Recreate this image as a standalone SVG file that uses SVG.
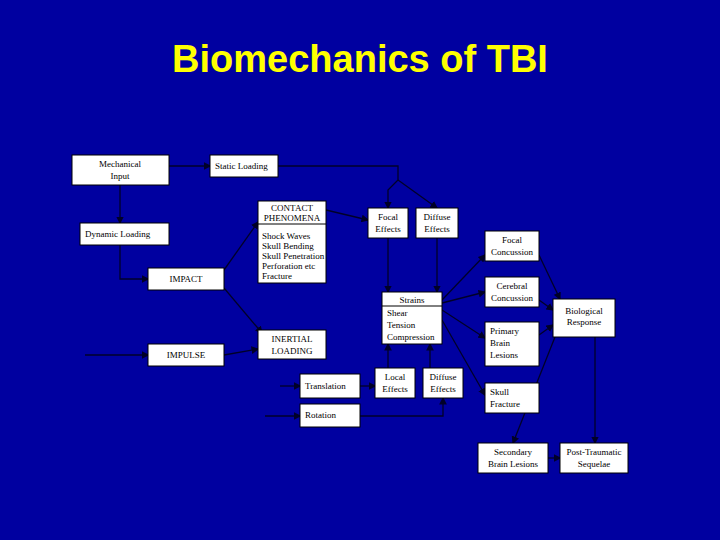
<svg xmlns="http://www.w3.org/2000/svg" width="720" height="540" viewBox="0 0 720 540">
<style>
.b{fill:#fff;stroke:#000;stroke-width:1}
.t{font-family:"Liberation Serif",serif;font-size:9px;fill:#000}
.c{text-anchor:middle}
#conn line,#conn polyline{stroke:#000028;stroke-width:1.3;fill:none;marker-end:url(#a)}
</style>
<defs><marker id="a" markerWidth="6" markerHeight="6" refX="5" refY="3" orient="auto"><path d="M0,0L6,3L0,6z" fill="#000028"/></marker></defs>
<rect width="720" height="540" fill="#0000A0"/>
<text x="360" y="72" text-anchor="middle" font-family="Liberation Sans,sans-serif" font-weight="bold" font-size="38" fill="#FFFF00">Biomechanics of TBI</text>
<g id="conn">
<line x1="169" y1="166" x2="210" y2="166"/>
<line x1="120" y1="185" x2="120" y2="223"/>
<polyline points="278,166 398,166 398,180 388,190 388,208"/>
<line x1="398" y1="180" x2="437" y2="208"/>
<line x1="326" y1="210" x2="368" y2="220"/>
<polyline points="120,245 120,279 148,279"/>
<line x1="224" y1="270" x2="258" y2="222"/>
<line x1="224" y1="288" x2="262" y2="333"/>
<line x1="85" y1="355" x2="148" y2="355"/>
<line x1="224" y1="355" x2="258" y2="349"/>
<line x1="280" y1="386" x2="300" y2="386"/>
<line x1="265" y1="416" x2="300" y2="416"/>
<line x1="360" y1="386" x2="375" y2="386"/>
<polyline points="360,416 443,416 443,398"/>
<line x1="388" y1="238" x2="388" y2="292"/>
<line x1="437" y1="238" x2="437" y2="292"/>
<line x1="388" y1="368" x2="388" y2="344"/>
<line x1="430" y1="368" x2="430" y2="344"/>
<line x1="442" y1="300" x2="485" y2="255"/>
<line x1="442" y1="303" x2="485" y2="292"/>
<line x1="442" y1="310" x2="485" y2="338"/>
<line x1="442" y1="320" x2="485" y2="395"/>
<line x1="539" y1="255" x2="560" y2="299"/>
<line x1="539" y1="300" x2="553" y2="310"/>
<line x1="539" y1="335" x2="553" y2="325"/>
<line x1="555" y1="337" x2="513" y2="443"/>
<line x1="595" y1="337" x2="595" y2="443"/>
<line x1="548" y1="458" x2="560" y2="458"/>
</g>
<g id="mech"><rect class="b" x="72" y="155" width="97" height="30"/><text class="t c" x="120" y="167">Mechanical</text><text class="t c" x="120" y="179">Input</text></g>
<g id="static"><rect class="b" x="210" y="155" width="68" height="22"/><text class="t" x="215" y="169">Static Loading</text></g>
<g id="dynamic"><rect class="b" x="80" y="223" width="89" height="22"/><text class="t" x="85" y="237">Dynamic Loading</text></g>
<g id="contact"><rect class="b" x="258" y="201" width="68" height="82"/><line x1="258" y1="224" x2="326" y2="224" stroke="#000"/><text class="t c" x="292" y="211">CONTACT</text><text class="t c" x="292" y="221">PHENOMENA</text><text class="t" x="262" y="239">Shock Waves</text><text class="t" x="262" y="249">Skull Bending</text><text class="t" x="262" y="259">Skull Penetration</text><text class="t" x="262" y="269">Perforation etc</text><text class="t" x="262" y="279">Fracture</text></g>
<g id="impact"><rect class="b" x="148" y="268" width="76" height="22"/><text class="t c" x="186" y="282">IMPACT</text></g>
<g id="inertial"><rect class="b" x="258" y="330" width="68" height="29"/><text class="t c" x="292" y="342">INERTIAL</text><text class="t c" x="292" y="354">LOADING</text></g>
<g id="impulse"><rect class="b" x="148" y="344" width="76" height="22"/><text class="t c" x="186" y="358">IMPULSE</text></g>
<g id="translation"><rect class="b" x="300" y="374" width="60" height="24"/><text class="t" x="305" y="389">Translation</text></g>
<g id="rotation"><rect class="b" x="300" y="404" width="60" height="23"/><text class="t" x="305" y="418">Rotation</text></g>
<g id="focalE"><rect class="b" x="368" y="208" width="40" height="30"/><text class="t c" x="388" y="220">Focal</text><text class="t c" x="388" y="232">Effects</text></g>
<g id="diffuseE"><rect class="b" x="416" y="208" width="42" height="30"/><text class="t c" x="437" y="220">Diffuse</text><text class="t c" x="437" y="232">Effects</text></g>
<g id="focalC"><rect class="b" x="485" y="231" width="54" height="30"/><text class="t c" x="512" y="243">Focal</text><text class="t c" x="512" y="255">Concussion</text></g>
<g id="cerebral"><rect class="b" x="485" y="277" width="54" height="30"/><text class="t c" x="512" y="289">Cerebral</text><text class="t c" x="512" y="301">Concussion</text></g>
<g id="strains"><rect class="b" x="382" y="292" width="60" height="52"/><line x1="382" y1="306" x2="442" y2="306" stroke="#000"/><text class="t c" x="412" y="303">Strains</text><text class="t" x="387" y="316">Shear</text><text class="t" x="387" y="328">Tension</text><text class="t" x="387" y="340">Compression</text></g>
<g id="bio"><rect class="b" x="553" y="299" width="62" height="38"/><text class="t c" x="584" y="314">Biological</text><text class="t c" x="584" y="325">Response</text></g>
<g id="primary"><rect class="b" x="485" y="322" width="54" height="44"/><text class="t" x="490" y="334">Primary</text><text class="t" x="490" y="346">Brain</text><text class="t" x="490" y="358">Lesions</text></g>
<g id="localE"><rect class="b" x="375" y="368" width="40" height="30"/><text class="t c" x="395" y="380">Local</text><text class="t c" x="395" y="392">Effects</text></g>
<g id="diffuseE2"><rect class="b" x="423" y="368" width="40" height="30"/><text class="t c" x="443" y="380">Diffuse</text><text class="t c" x="443" y="392">Effects</text></g>
<g id="skull"><rect class="b" x="485" y="383" width="54" height="30"/><text class="t" x="490" y="395">Skull</text><text class="t" x="490" y="407">Fracture</text></g>
<g id="secondary"><rect class="b" x="478" y="443" width="70" height="30"/><text class="t c" x="513" y="455">Secondary</text><text class="t c" x="513" y="467">Brain Lesions</text></g>
<g id="post"><rect class="b" x="560" y="443" width="68" height="30"/><text class="t c" x="594" y="455">Post-Traumatic</text><text class="t c" x="594" y="467">Sequelae</text></g>
</svg>
